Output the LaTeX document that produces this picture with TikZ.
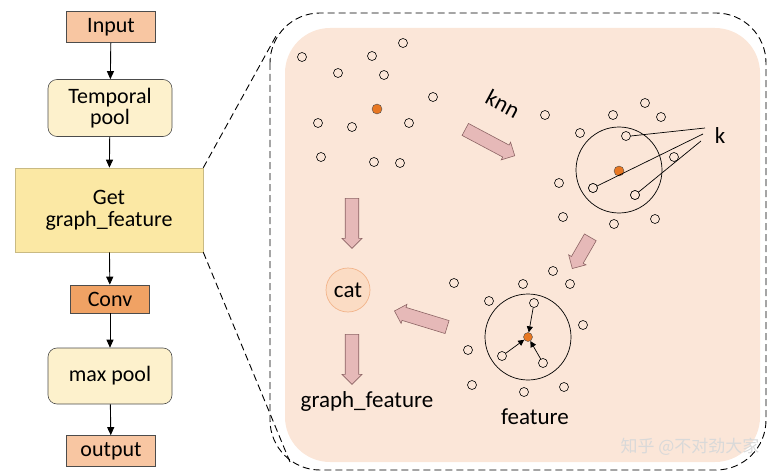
\documentclass[tikz,border=0pt]{standalone}
\usepackage{fontspec}
\setmainfont{Carlito}
\newfontfamily\cjk{Noto Sans CJK SC}
\usetikzlibrary{shapes.arrows,arrows.meta}
\definecolor{salmon}{HTML}{F8C6A2}
\definecolor{lyel}{HTML}{FDF1CC}
\definecolor{gyel}{HTML}{FBE8A4}
\definecolor{conv}{HTML}{F0A264}
\definecolor{panel}{HTML}{FBE6D8}
\definecolor{catf}{HTML}{FBDCC4}
\definecolor{catd}{HTML}{F2B48A}
\definecolor{arrf}{HTML}{E6B9B8}
\definecolor{arrd}{HTML}{8C6464}
\definecolor{dot}{HTML}{E87722}
\begin{document}
\begin{tikzpicture}[x=1pt,y=-1pt,
  box/.style={draw=black!70,line width=0.6pt,align=center,font=\fontsize{22}{24}\selectfont},
  pt/.style={circle,draw,line width=0.6pt,minimum size=9pt,inner sep=0pt,fill=panel},
  ctr/.style={circle,draw=black!70,fill=dot,minimum size=10pt,inner sep=0pt},
  bigc/.style={circle,draw,line width=0.7pt,minimum size=86pt,inner sep=0pt},
  barr/.style={single arrow,draw=arrd,fill=arrf,line width=0.6pt,minimum height=#1,minimum width=20pt,single arrow head extend=3pt,inner xsep=0pt,inner ysep=6pt},
  lab/.style={font=\fontsize{23}{25}\selectfont},
  flow/.style={-{Triangle[length=8pt,width=7pt]},line width=0.9pt}]
\useasboundingbox (0,0) rectangle (776,476);
% panel
\fill[panel,rounded corners=45pt] (285,28) rectangle (760,462);
\draw[dashed,line width=0.9pt,dash pattern=on 7pt off 4pt,rounded corners=50pt] (270,13) rectangle (766,470);
% left column
\node[box,fill=salmon,minimum width=89pt,minimum height=31pt] (in) at (111,27) {Input};
\node[box,fill=lyel,rounded corners=9pt,minimum width=124pt,minimum height=57pt] (tp) at (110,108) {Temporal\\[-3pt]pool};
\node[box,fill=gyel,draw=gyel!80!black,minimum width=188pt,minimum height=84pt] (gg) at (109,210) {Get\\[-2pt]graph\_feature};
\node[box,fill=conv,minimum width=79pt,minimum height=28pt] (cv) at (110,299) {Conv};
\node[box,fill=lyel,rounded corners=9pt,minimum width=124pt,minimum height=56pt] (mp) at (110,376) {max pool};
\node[box,fill=salmon,minimum width=89pt,minimum height=31pt] (out) at (111,451) {output};
\draw[flow] (in) -- (tp);
\draw[flow] (tp) -- (gg);
\draw[flow] (gg) -- (cv);
\draw[flow] (cv) -- (mp);
\draw[flow] (mp) -- (out);
\coordinate (z1) at (276,36);
\coordinate (z2) at (290,462);
\draw[dashed,line width=0.9pt,dash pattern=on 7pt off 4pt] (gg.north east) -- (z1);
\draw[dashed,line width=0.9pt,dash pattern=on 7pt off 4pt] (gg.south east) -- (z2);
% top cluster
\foreach \x/\y [count=\i] in {302/57,338/73,372/56,403/43,384/75,433/97,318/123,352/127,409/123,321/157,374/162,400/163}
  \node[pt] (a\i) at (\x,\y) {};
\node[ctr] (a0) at (377,109) {};
% knn
\node[barr=56pt,rotate=-28] (ar1) at (487,141) {};
\node[lab,rotate=-28,inner sep=0pt] (knn) at (503,104) {knn};
% k cluster
\node[bigc] (c1) at (619,170) {};
\foreach \x/\y [count=\i] in {545/115,613/115,645/103,661/117,580/133,626/136,674/157,559/183,593/188,635/195,563/217,614/224,655/219}
  \node[pt] (b\i) at (\x,\y) {};
\node[ctr] (b0) at (619,171) {};
\node[lab] (k) at (720,136) {k};
\coordinate (k1) at (705,128);
\coordinate (k2) at (703,134);
\coordinate (k3) at (701,141);
\draw[line width=0.7pt] (k1) -- (b6.east);
\draw[line width=0.7pt] (k2) -- (b9.center);
\draw[line width=0.7pt] (k3) -- (b10.center);
\node[pt] at (593,188) {};
\node[pt] at (635,195) {};
\node[barr=36pt,rotate=-120] (ar2) at (583,250) {};
% feature cluster
\node[bigc] (c2) at (528,337) {};
\foreach \x/\y [count=\i] in {454/283,523/284,553/271,570/284,489/301,534/303,583/325,468/350,502/356,543/363,472/385,524/392,564/387}
  \node[pt] (f\i) at (\x,\y) {};
\node[ctr,minimum size=9pt] (f0) at (528,337) {};
\draw[-{Triangle[length=6pt,width=6pt]},line width=0.7pt] (f6) -- (f0);
\draw[-{Triangle[length=6pt,width=6pt]},line width=0.7pt] (f9) -- (f0);
\draw[-{Triangle[length=6pt,width=6pt]},line width=0.7pt] (f10) -- (f0);
\node[lab] (feat) at (535,417) {feature};
\node[barr=55pt,rotate=163] (ar3) at (424,320) {};
% cat
\node[circle,draw=catd,fill=catf,line width=0.7pt,minimum size=44pt,lab] (cat) at (348,290) {cat};
\node[barr=50pt,rotate=-90] (ar4) at (352,220) {};
\node[barr=50pt,rotate=-90] (ar5) at (352,356) {};
\node[lab] (gf) at (367,401) {graph\_feature};
\node[text=white!85!black,font=\cjk\fontsize{17}{19}\selectfont] (wm) at (690,447) {知乎 @不对劲大家};
\end{tikzpicture}
\end{document}
